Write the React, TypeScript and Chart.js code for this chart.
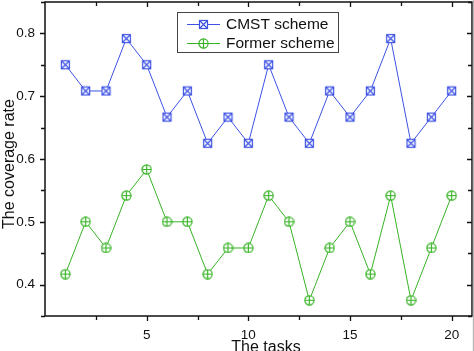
import React, { useEffect, useRef } from "react";
import { Chart, registerables } from "chart.js";

Chart.register(...registerables);

const tasks = [1, 2, 3, 4, 5, 6, 7, 8, 9, 10, 11, 12, 13, 14, 15, 16, 17, 18, 19, 20];
const cmstScheme = [0.75, 0.7083, 0.7083, 0.7917, 0.75, 0.6667, 0.7083, 0.625, 0.6667, 0.625, 0.75, 0.6667, 0.625, 0.7083, 0.6667, 0.7083, 0.7917, 0.625, 0.6667, 0.7083];
const formerScheme = [0.4167, 0.5, 0.4583, 0.5417, 0.5833, 0.5, 0.5, 0.4167, 0.4583, 0.4583, 0.5417, 0.5, 0.375, 0.4583, 0.5, 0.4167, 0.5417, 0.375, 0.4583, 0.5417];
const seriesNames = ["CMST scheme", "Former scheme"];
const xTickValues = [5, 10, 15, 20];
const xMinorTicks = [2.5, 7.5, 12.5, 17.5];
const yTickValues = [0.4, 0.5, 0.6, 0.7, 0.8];
const yMinorTicks = [0.35, 0.45, 0.55, 0.65, 0.75, 0.85];
const xTitle = "The tasks";
const yTitle = "The coverage rate";

const BLUE = "#3d52e4";
const GREEN = "#36b324";
const FONT = "'Liberation Sans', Arial, sans-serif";

function makeMarker(kind: "square" | "circle", color: string): HTMLCanvasElement {
  const c = document.createElement("canvas");
  c.width = 11;
  c.height = 11;
  const ctx = c.getContext("2d")!;
  ctx.strokeStyle = color;
  ctx.fillStyle = "#ffffff";
  ctx.lineWidth = 1.2;
  if (kind === "square") {
    ctx.fillRect(1, 1, 9, 9);
    ctx.strokeRect(1.5, 1.5, 8, 8);
    ctx.beginPath();
    ctx.moveTo(1.5, 1.5);
    ctx.lineTo(9.5, 9.5);
    ctx.moveTo(9.5, 1.5);
    ctx.lineTo(1.5, 9.5);
    ctx.stroke();
  } else {
    ctx.beginPath();
    ctx.arc(5.5, 5.5, 4.6, 0, Math.PI * 2);
    ctx.fill();
    ctx.stroke();
    ctx.beginPath();
    ctx.moveTo(1, 5.5);
    ctx.lineTo(10, 5.5);
    ctx.moveTo(5.5, 1);
    ctx.lineTo(5.5, 10);
    ctx.stroke();
  }
  return c;
}

export default function App() {
  const ref = useRef<HTMLCanvasElement | null>(null);

  useEffect(() => {
    document.body.style.margin = "0";
    const canvas = ref.current!;
    const blueMarker = makeMarker("square", BLUE);
    const greenMarker = makeMarker("circle", GREEN);

    const framePlugin = {
      id: "frame",
      beforeDatasetsDraw(chart: any) {
        const { ctx, chartArea } = chart;
        const { left, right, top, bottom } = chartArea;
        const xs = chart.scales.x;
        const ys = chart.scales.y;
        ctx.save();
        ctx.strokeStyle = "#111";
        ctx.lineWidth = 1.5;
        ctx.strokeRect(left, top, right - left, bottom - top);
        ctx.lineWidth = 1.3;
        ctx.beginPath();
        const allX = [...xTickValues.map((v) => [v, 5]), ...xMinorTicks.map((v) => [v, 4])];
        for (const [v, len] of allX) {
          const px = Math.round(xs.getPixelForValue(v)) + 0.5;
          ctx.moveTo(px, bottom);
          ctx.lineTo(px, bottom + len);
          ctx.moveTo(px, top);
          ctx.lineTo(px, top + len);
        }
        const allY = [...yTickValues.map((v) => [v, 5]), ...yMinorTicks.map((v) => [v, 4])];
        for (const [v, len] of allY) {
          const py = Math.round(ys.getPixelForValue(v)) + 0.5;
          if (py < top || py > bottom + 1) continue;
          ctx.moveTo(left, py);
          ctx.lineTo(left - len, py);
          ctx.moveTo(right, py);
          ctx.lineTo(right - len, py);
        }
        ctx.stroke();
        ctx.fillStyle = "#b4b4b4";
        ctx.fillRect(right + 0.8, 0, 474 - right, 351);
        ctx.restore();
      },
      afterDraw(chart: any) {
        const { ctx } = chart;
        ctx.save();
        ctx.fillStyle = "#111";
        ctx.font = `16px ${FONT}`;
        ctx.textAlign = "center";
        ctx.textBaseline = "alphabetic";
        ctx.fillText(xTitle, 266, 352);
        ctx.translate(13.5, 164);
        ctx.rotate(-Math.PI / 2);
        ctx.fillText(yTitle, 0, 0);
        ctx.restore();

        ctx.save();
        const bx = 177.5, by = 12.5, bw = 161, bh = 40;
        ctx.fillStyle = "#fff";
        ctx.fillRect(bx, by, bw, bh);
        ctx.strokeStyle = "#444";
        ctx.lineWidth = 1;
        ctx.strokeRect(bx, by, bw, bh);
        const rows = [
          { name: seriesNames[0], color: BLUE, marker: blueMarker, y: 24 },
          { name: seriesNames[1], color: GREEN, marker: greenMarker, y: 43 },
        ];
        for (const r of rows) {
          ctx.strokeStyle = r.color;
          ctx.lineWidth = 1;
          ctx.beginPath();
          ctx.moveTo(187, r.y + 0.5);
          ctx.lineTo(220, r.y + 0.5);
          ctx.stroke();
          ctx.drawImage(r.marker, 203.5 - 5.5, r.y + 0.5 - 5.5);
          ctx.fillStyle = "#111";
          ctx.font = `15.5px ${FONT}`;
          ctx.textAlign = "left";
          ctx.textBaseline = "middle";
          ctx.fillText(r.name, 226, r.y + 1);
        }
        ctx.restore();
      },
    };

    const chart = new Chart(canvas, {
      type: "line",
      data: {
        labels: tasks,
        datasets: [
          {
            label: seriesNames[0],
            data: tasks.map((t, i) => ({ x: t, y: cmstScheme[i] })),
            borderColor: BLUE,
            borderWidth: 1,
            pointStyle: blueMarker as any,
            pointRadius: 5,
            clip: false as any,
          },
          {
            label: seriesNames[1],
            data: tasks.map((t, i) => ({ x: t, y: formerScheme[i] })),
            borderColor: GREEN,
            borderWidth: 1,
            pointStyle: greenMarker as any,
            pointRadius: 5,
            clip: false as any,
          },
        ],
      },
      options: {
        responsive: false,
        animation: false,
        layout: { autoPadding: false, padding: { top: 2, right: 2, left: 0, bottom: 0 } },
        plugins: { legend: { display: false }, tooltip: { enabled: false } },
        scales: {
          x: {
            type: "linear",
            min: 0,
            max: 21,
            grid: { display: false, drawTicks: false },
            border: { display: false },
            afterBuildTicks: (s: any) => {
              s.ticks = xTickValues.map((v) => ({ value: v }));
            },
            afterFit: (s: any) => {
              s.height = 35;
              s.paddingLeft = 0;
              s.paddingRight = 0;
              s.paddingTop = 0;
              s.paddingBottom = 0;
            },
            ticks: {
              color: "#111",
              font: { family: FONT, size: 13.5 },
              padding: 11,
              maxRotation: 0,
              autoSkip: false,
            },
          },
          y: {
            type: "linear",
            min: 0.35,
            max: 0.85,
            grid: { display: false, drawTicks: false },
            border: { display: false },
            afterBuildTicks: (s: any) => {
              s.ticks = yTickValues.map((v) => ({ value: v }));
            },
            afterFit: (s: any) => {
              s.width = 45;
              s.paddingLeft = 0;
              s.paddingRight = 0;
              s.paddingTop = 0;
              s.paddingBottom = 0;
            },
            ticks: {
              color: "#111",
              font: { family: FONT, size: 13.5 },
              padding: 10,
              callback: (v: any) => Number(v).toFixed(1),
            },
          },
        },
      },
      plugins: [framePlugin],
    });
    return () => chart.destroy();
  }, []);

  return (
    <div style={{ width: 474, height: 351 }}>
      <canvas ref={ref} width={474} height={351} />
    </div>
  );
}
